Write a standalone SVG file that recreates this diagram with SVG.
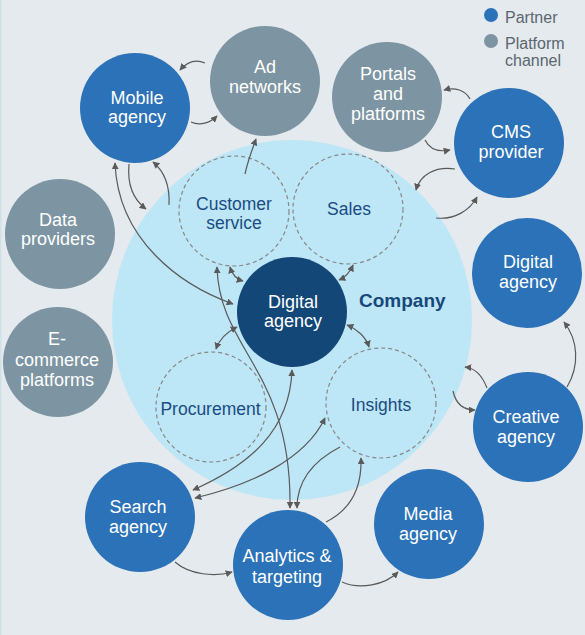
<svg xmlns="http://www.w3.org/2000/svg" width="585" height="635" viewBox="0 0 585 635">
<defs>
<style>
.partner{fill:#2b72b8}
.platform{fill:#7d95a2}
.core{fill:#134777}
.dept{fill:none;stroke:#888;stroke-width:1.2;stroke-dasharray:4 3}
.wt{font-family:"Liberation Sans",Arial,sans-serif;font-size:18px;fill:#fff;text-anchor:middle}
.dt{font-family:"Liberation Sans",Arial,sans-serif;font-size:17.5px;fill:#1b4c82;text-anchor:middle}
.lg{font-family:"Liberation Sans",Arial,sans-serif;font-size:16px;fill:#5b6670}
.c{fill:none;stroke:#5a5a5a;stroke-width:1.2}
.e{marker-end:url(#ah)}
.b{marker-start:url(#ah);marker-end:url(#ah)}
</style>
<marker id="ah" viewBox="0 0 10 10" refX="9" refY="5" markerWidth="7" markerHeight="7" markerUnits="userSpaceOnUse" orient="auto-start-reverse">
<path d="M0,0 L10,5 L0,10 Z" fill="#5a5a5a"/>
</marker>
</defs>
<rect x="0" y="0" width="585" height="635" fill="#e4eaed"/>
<rect x="0" y="0" width="1.5" height="635" fill="#cfe2e6"/>

<g id="company">
<circle cx="292" cy="320" r="180" fill="#bde6f6"/>
<text x="359" y="307" font-family="'Liberation Sans',Arial,sans-serif" font-size="19" font-weight="bold" fill="#17487a">Company</text>
</g>

<g id="customer-service"><circle class="dept" cx="234" cy="211" r="55"/><text class="dt" x="234" y="210">Customer</text><text class="dt" x="234" y="229">service</text></g>
<g id="sales"><circle class="dept" cx="348" cy="209" r="55"/><text class="dt" x="349" y="215">Sales</text></g>
<g id="procurement"><circle class="dept" cx="211" cy="407" r="55"/><text class="dt" x="210.5" y="415">Procurement</text></g>
<g id="insights"><circle class="dept" cx="381" cy="403" r="55"/><text class="dt" x="381" y="411">Insights</text></g>
<g id="digital-agency-core"><circle class="core" cx="292" cy="312" r="55"/><text class="wt" x="293" y="308">Digital</text><text class="wt" x="293" y="327">agency</text></g>

<g id="mobile-agency"><circle class="partner" cx="135" cy="108" r="55"/><text class="wt" x="137" y="104">Mobile</text><text class="wt" x="137" y="123">agency</text></g>
<g id="ad-networks"><circle class="platform" cx="265" cy="81" r="55"/><text class="wt" x="265" y="73">Ad</text><text class="wt" x="265" y="93">networks</text></g>
<g id="data-providers"><circle class="platform" cx="60" cy="234" r="55"/><text class="wt" x="58" y="226">Data</text><text class="wt" x="58" y="245">providers</text></g>
<g id="e-commerce"><circle class="platform" cx="58" cy="362" r="55"/><text class="wt" x="57" y="345">E-</text><text class="wt" x="57" y="366">commerce</text><text class="wt" x="57" y="386">platforms</text></g>
<g id="portals"><circle class="platform" cx="387" cy="97" r="55"/><text class="wt" x="388" y="80">Portals</text><text class="wt" x="388" y="100">and</text><text class="wt" x="388" y="120">platforms</text></g>
<g id="cms-provider"><circle class="partner" cx="509" cy="143" r="55"/><text class="wt" x="511" y="138">CMS</text><text class="wt" x="511" y="158">provider</text></g>
<g id="digital-agency-partner"><circle class="partner" cx="527" cy="273" r="55"/><text class="wt" x="528" y="268">Digital</text><text class="wt" x="528" y="288">agency</text></g>
<g id="creative-agency"><circle class="partner" cx="528" cy="427" r="55"/><text class="wt" x="526" y="423">Creative</text><text class="wt" x="526" y="443">agency</text></g>
<g id="media-agency"><circle class="partner" cx="429" cy="524" r="55"/><text class="wt" x="428" y="520">Media</text><text class="wt" x="428" y="540">agency</text></g>
<g id="search-agency"><circle class="partner" cx="140" cy="517" r="55"/><text class="wt" x="138" y="513">Search</text><text class="wt" x="138" y="533">agency</text></g>
<g id="analytics"><circle class="partner" cx="288" cy="565" r="55"/><text class="wt" x="287" y="562">Analytics &amp;</text><text class="wt" x="287" y="583">targeting</text></g>

<g id="connectors">
<path class="c e" d="M205,63 C196,59 187,62 180,70"/>
<path class="c e" d="M191,122 C200,126 210,123 217,116"/>
<path class="c e" d="M245,174 C248,160 252,150 256,139"/>
<path class="c e" d="M129,164 C127,185 134,200 146,209"/>
<path class="c e" d="M169,205 C170,186 165,172 153,162"/>
<path class="c b" d="M115,163 C118,240 180,285 233,304"/>
<path class="c b" d="M230,267 C232,274 236,279 243,281"/>
<path class="c b" d="M353,265 C350,272 346,277 339,280"/>
<path class="c b" d="M237,327 C227,332 219,340 216,349"/>
<path class="c b" d="M347,325 C357,329 366,337 369,347"/>
<path class="c b" d="M217,267 C219,350 292,370 290,508"/>
<path class="c b" d="M292,370 C290,430 250,465 193,490"/>
<path class="c b" d="M325,418 C305,460 250,485 195,498"/>
<path class="c e" d="M340,447 C315,460 297,480 297,508"/>
<path class="c e" d="M326,522 C350,510 362,490 361,458"/>
<path class="c e" d="M342,582 C360,590 385,585 398,572"/>
<path class="c e" d="M175,562 C190,575 215,577 232,572"/>
<path class="c e" d="M470,99 C465,90 455,87 444,90"/>
<path class="c e" d="M425,140 C430,150 440,152 450,150"/>
<path class="c e" d="M455,169 C435,166 420,175 416,190"/>
<path class="c e" d="M436,218 C455,220 470,210 477,197"/>
<path class="c e" d="M567,387 C580,365 578,340 564,322"/>
<path class="c e" d="M487,388 C482,375 475,368 465,367"/>
<path class="c e" d="M453,391 C456,405 465,410 475,410"/>
</g>

<g id="legend">
<circle class="partner" cx="491" cy="15" r="7"/>
<text class="lg" x="505" y="23">Partner</text>
<circle class="platform" cx="491" cy="41" r="7"/>
<text class="lg" x="505" y="49">Platform</text>
<text class="lg" x="505" y="66">channel</text>
</g>
</svg>
